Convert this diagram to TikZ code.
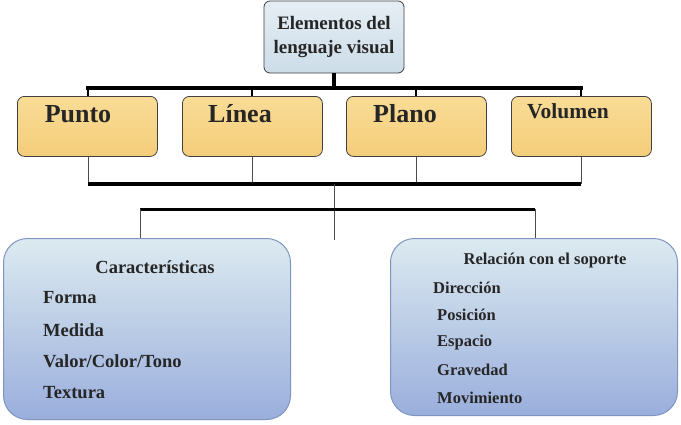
\documentclass[tikz,border=0pt]{standalone}
\usepackage{fontspec}
\setmainfont{Liberation Serif}
\definecolor{elemtop}{HTML}{F9DC96}
\definecolor{elembot}{HTML}{F4CD7A}
\definecolor{bigtop}{HTML}{DCEAF0}
\definecolor{bigbot}{HTML}{9AAEDC}
\definecolor{bigdraw}{HTML}{7F95C0}
\definecolor{toptop}{HTML}{E6EEF4}
\definecolor{topbot}{HTML}{CCDCE8}
\begin{document}
\begin{tikzpicture}[x=1pt,y=-1pt,
  thick line/.style={line width=3.5pt,black},
  thin line/.style={line width=0.8pt,black!70},
  elem/.style={draw=black!75,line width=0.8pt,rounded corners=7pt,top color=elemtop,bottom color=elembot,minimum width=140pt,minimum height=60pt,anchor=north west,inner sep=0pt},
  big/.style={draw=bigdraw,line width=1pt,rounded corners=24pt,top color=bigtop,bottom color=bigbot,anchor=north west,inner sep=0pt,minimum width=287pt},
  lbl/.style={font=\bfseries,text=black!85,inner sep=0pt}]
\useasboundingbox[fill=white] (0,0) rectangle (681,424);
\node[draw=black!75,line width=0.8pt,rounded corners=6pt,top color=toptop,bottom color=topbot,minimum width=140pt,minimum height=72pt,align=center,font=\bfseries\fontsize{19}{24}\selectfont,text=black!85] (top) at (334,37) {Elementos del\\lenguaje visual};
\node[elem] (p) at (17,96) {}; \node[lbl,font=\bfseries\fontsize{26}{28}\selectfont] at (78,114) {Punto};
\node[elem] (l) at (182,96) {}; \node[lbl,font=\bfseries\fontsize{26}{28}\selectfont] at (240,114) {Línea};
\node[elem] (pl) at (346,96) {}; \node[lbl,font=\bfseries\fontsize{26}{28}\selectfont] at (405,114) {Plano};
\node[elem] (v) at (511,96) {}; \node[lbl,font=\bfseries\fontsize{21.5}{23}\selectfont] at (568,111) {Volumen};
\draw[line width=4pt] (top.south) -- (334,88);
\draw[thick line] (86,88) -- (583,88);
\foreach \n/\x in {p/88,l/252,pl/416,v/581}{
  \draw[line width=1.5pt] (\x,88) -- (\n.north -| \x,0);
  \draw[thin line] (\n.south -| \x,0) -- (\x,184);}
\draw[thick line] (88,184) -- (581,184);
\draw[thin line] (334,184) -- (334,240);
\draw[line width=3pt] (140,209) -- (535,209);
\node[big,minimum height=181pt] (c) at (3,238) {};
\node[big,minimum height=177pt] (r) at (390,238) {};
\draw[thin line] (140,209) -- (c.north -| 140,0);
\draw[thin line] (535,209) -- (r.north -| 535,0);
\begin{scope}[every node/.style={lbl,font=\bfseries\fontsize{18.5}{20}\selectfont,anchor=west}]
\node[anchor=center] at (155,267) {Características};
\node at (43,298) {Forma};
\node at (43,330) {Medida};
\node at (43,361) {Valor/Color/Tono};
\node at (43,393) {Textura};
\end{scope}
\begin{scope}[every node/.style={lbl,font=\bfseries\fontsize{16.5}{18}\selectfont,anchor=west}]
\node[anchor=center] at (545,261) {Relación con el soporte};
\node at (433,288) {Dirección};
\node at (437,315) {Posición};
\node at (437,343) {Espacio};
\node at (437,370) {Gravedad};
\node at (437,398) {Movimiento};
\end{scope}
\end{tikzpicture}
\end{document}
